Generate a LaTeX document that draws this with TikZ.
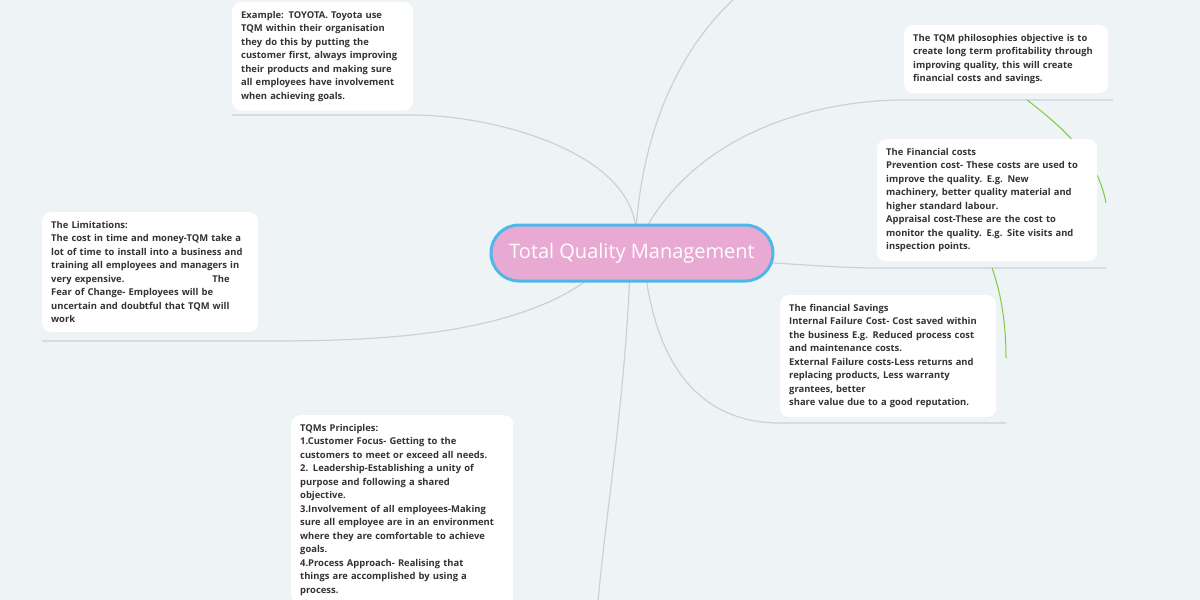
\documentclass[tikz,border=0pt]{standalone}
\usepackage{fontspec}
\setmainfont{Open Sans}
\definecolor{bg}{HTML}{EEF3F6}
\definecolor{ln}{HTML}{C9D2D8}
\definecolor{gr}{HTML}{7DCB3F}
\definecolor{pk}{HTML}{E8A9D2}
\definecolor{bl}{HTML}{4DB8E8}
\definecolor{tx}{HTML}{333333}
\tikzset{
 branch/.style={draw=ln, line width=1.2pt},
 rel/.style={draw=gr, line width=1pt},
 card/.style={fill=white, rounded corners=9pt, anchor=north west, inner sep=9pt,
   align=left, font=\fontsize{9.4}{13.5}\selectfont\bfseries, text=tx},
}
\begin{document}
\begin{tikzpicture}[x=1pt,y=-1pt]
\useasboundingbox (0,0) rectangle (1200,600);
\clip (0,0) rectangle (1200,600);
\fill[bg] (0,0) rectangle (1200,600);
\coordinate (c) at (632,253);
% underline coordinates
\coordinate (u1a) at (413,115); \coordinate (u1b) at (232,115);
\coordinate (u2a) at (258,341); \coordinate (u2b) at (42,341);
\coordinate (u4a) at (904,100); \coordinate (u4b) at (1113,100);
\coordinate (u5a) at (877,268); \coordinate (u5b) at (1106,268);
\coordinate (u6a) at (780,423); \coordinate (u6b) at (1006,423);
\coordinate (top) at (735,-2);
\coordinate (bot) at (598,602);
\draw[branch] (636,230) .. controls (630,150) and (490,115) .. (u1a) -- (u1b);
\draw[branch] (636,230) .. controls (645,100) and (700,30) .. (top);
\draw[branch] (645,230) .. controls (700,130) and (820,100) .. (u4a) -- (u4b);
\draw[branch] (760,262) .. controls (820,266) and (850,268) .. (u5a) -- (u5b);
\draw[branch] (645,270) .. controls (660,390) and (720,423) .. (u6a) -- (u6b);
\draw[branch] (600,270) .. controls (520,340) and (360,341) .. (u2a) -- (u2b);
\draw[branch] (630,270) .. controls (625,400) and (605,520) .. (bot);
\draw[rel] (1027,100) .. controls (1080,140) and (1100,170) .. (1106,203);
\draw[rel] (992,268) .. controls (1000,290) and (1006,320) .. (1006,358);
\node[card, text width=163pt] (n1) at (232,2) {Example: TOYOTA. Toyota use\\TQM within their organisation\\they do this by putting the\\customer first, always improving\\their products and making sure\\all employees have involvement\\when achieving goals.};
\node[card, text width=198pt] (n2) at (42,212) {The Limitations:\\The cost in time and money-TQM take a\\lot of time to install into a business and\\training all employees and managers in\\very expensive.\hspace{88pt}The\\Fear of Change- Employees will be\\uncertain and doubtful that TQM will\\work};
\node[card, text width=204pt] (n3) at (291,415) {TQMs Principles:\\1.Customer Focus- Getting to the\\customers to meet or exceed all needs.\\2. Leadership-Establishing a unity of\\purpose and following a shared\\objective.\\3.Involvement of all employees-Making\\sure all employee are in an environment\\where they are comfortable to achieve\\goals.\\4.Process Approach- Realising that\\things are accomplished by using a\\process.\\ };
\node[card, text width=186pt] (n4) at (904,25) {The TQM philosophies objective is to\\create long term profitability through\\improving quality, this will create\\financial costs and savings.};
\node[card, text width=202pt] (n5) at (877,139) {The Financial costs\\Prevention cost- These costs are used to\\improve the quality. E.g. New\\machinery, better quality material and\\higher standard labour.\\Appraisal cost-These are the cost to\\monitor the quality. E.g. Site visits and\\inspection points.};
\node[card, text width=198pt] (n6) at (780,295) {The financial Savings\\Internal Failure Cost- Cost saved within\\the business E.g. Reduced process cost\\and maintenance costs.\\External Failure costs-Less returns and\\replacing products, Less warranty\\grantees, better\\share value due to a good reputation.};
\node[fill=pk, draw=bl, line width=3pt, rounded corners=28pt, minimum width=282pt, minimum height=56pt, text=white, font=\fontsize{20}{22}\selectfont] (center) at (c) {Total Quality Management};
\end{tikzpicture}
\end{document}
